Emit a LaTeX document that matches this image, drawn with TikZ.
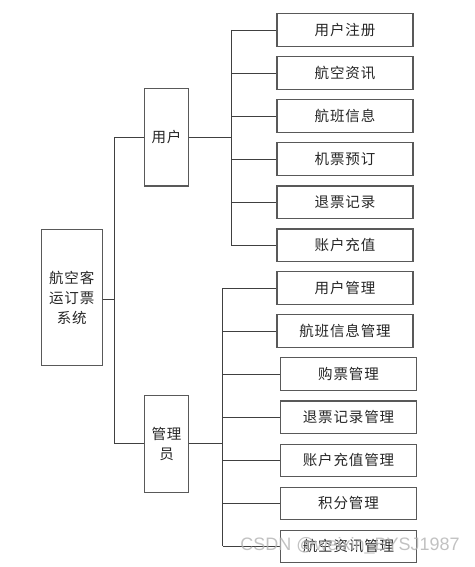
\documentclass[tikz,border=0pt]{standalone}
\usepackage{fontspec}
\newfontfamily\cjk[LetterSpace=6]{Noto Sans CJK SC}
\usetikzlibrary{positioning}
\begin{document}
\begin{tikzpicture}[x=1pt,y=-1pt,
    box/.style={draw=black!65,line width=1.1pt,minimum width=136pt,minimum height=32.5pt,
        inner sep=0pt,text=black!85,font=\cjk\fontsize{14.5}{20}\selectfont},
    tall/.style={box,minimum width=43.6pt,minimum height=97.3pt,align=center},
    link/.style={draw=black!75,line width=0.9pt}]
    \useasboundingbox (0,0) rectangle (474,567);
    
    % root and the two roles
    \node [tall,minimum width=60.7pt,minimum height=136.4pt] (root) at (71.7,297.5) {航空客\\运订票\\系统};
    \node [tall] (user) at (166.5,137.3) {用户};
    \node [tall] (admin) at (166.5,444.2) {管理\\员};
    
    \coordinate (rbus) at (114.7,299);
    \coordinate (ubus) at (231.3,137.3);
    \coordinate (abus) at (222.7,443.5);
    
    \draw [link] (root.east |- rbus) -- (rbus);
    \draw [link] (rbus |- user.west) -- (rbus |- abus);
    \draw [link] (rbus |- user.west) -- (user.west);
    \draw [link] (rbus |- abus) -- (admin.west |- abus);
    \draw [link] (user.east) -- (ubus);
    \draw [link] (admin.east |- abus) -- (abus);
    
    % user functions
    \foreach \t [count=\i] in {用户注册,航空资讯,航班信息,机票预订,退票记录,账户充值}{%
        \node [box] (u\i) at (345,{30+43.05*(\i-1)}) {\t};
        \draw [link] (ubus |- u\i.west) -- (u\i.west);}
    \draw [link] (ubus |- u1.west) -- (ubus |- u6.west);
    
    % admin functions
    \foreach \t/\xx [count=\i] in {用户管理/345,航班信息管理/345,购票管理/348.5,退票记录管理/348.5,%
        账户充值管理/348.5,积分管理/348.5,航空资讯管理/348.5}{%
        \node [box] (a\i) at (\xx,{288+43.08*(\i-1)}) {\t};
        \draw [link] (abus |- a\i.west) -- (a\i.west);}
    \draw [link] (abus |- a1.west) -- (abus |- a7.west);
    
    \node [text=black!30,opacity=0.8,font=\fontspec{Liberation Sans}\fontsize{18}{20}\selectfont] (mark) at (350,545.5) {CSDN @weixin\_BYSJ1987};
\end{tikzpicture}
\end{document}
